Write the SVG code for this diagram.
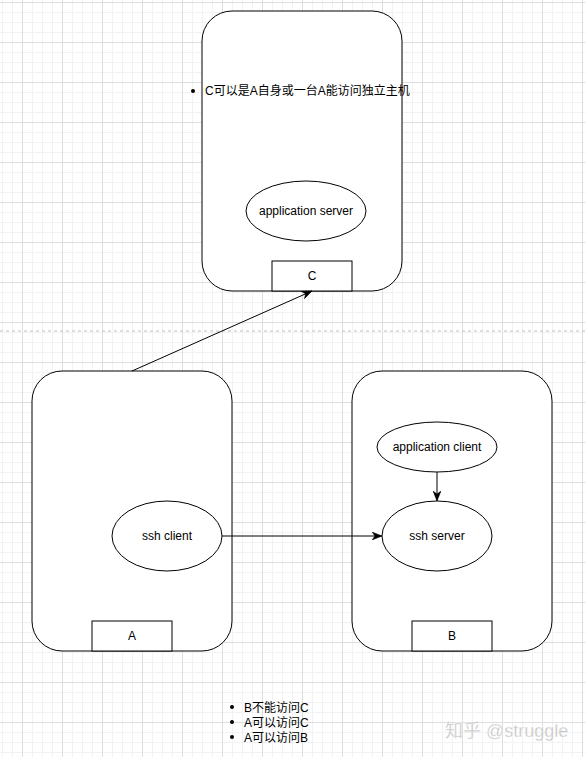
<svg xmlns="http://www.w3.org/2000/svg" width="585" height="757" viewBox="0 0 585 757">
<style>
.box{fill:#fff;stroke:#000;stroke-width:1}
.lbl{font-family:"Liberation Sans","Noto Sans CJK SC",sans-serif;font-size:12px;fill:#000;text-anchor:middle;dominant-baseline:central}
.txt{font-family:"Liberation Sans","Noto Sans CJK SC",sans-serif;font-size:12px;fill:#000}
.edge{fill:none;stroke:#000;stroke-width:1}
</style>
<defs>
<pattern id="grid" x="22" y="2" width="40" height="40" patternUnits="userSpaceOnUse">
<path d="M10.5 0V40M20.5 0V40M30.5 0V40M0 10.5H40M0 20.5H40M0 30.5H40" stroke="#f2f2f2" stroke-width="1" fill="none"/>
<path d="M0.5 0V40M0 0.5H40" stroke="#dedede" stroke-width="1" fill="none"/>
</pattern>
<marker id="arr" markerWidth="10" markerHeight="8" refX="10" refY="4" orient="auto" markerUnits="userSpaceOnUse">
<path d="M0 0L10 4L0 8L3 4Z" fill="#000" stroke="#000" stroke-width="0.5"/>
</marker>
</defs>
<rect width="585" height="757" fill="#fff"/>
<rect width="585" height="757" fill="url(#grid)"/>
<line x1="0" y1="331" x2="585" y2="331" stroke="#c0c0c0" stroke-width="1" stroke-dasharray="3 3"/>

<g id="node-C">
<rect class="box" x="202" y="11" width="200" height="280" rx="30" ry="30"/>
<circle cx="193" cy="91" r="2" fill="#000"/>
<text class="txt" x="205" y="95">C可以是A自身或一台A能访问独立主机</text>
<rect class="box" x="272" y="261" width="80" height="30"/>
<text class="lbl" x="312" y="276">C</text>
</g>
<g id="app-server">
<ellipse class="box" cx="306" cy="211" rx="60" ry="30"/>
<text class="lbl" x="306" y="211">application server</text>
</g>

<g id="node-A">
<rect class="box" x="32" y="371" width="200" height="280" rx="30" ry="30"/>
<rect class="box" x="92" y="621" width="80" height="30"/>
<text class="lbl" x="132" y="636">A</text>
</g>
<g id="ssh-client">
<ellipse class="box" cx="167" cy="536" rx="55" ry="35"/>
<text class="lbl" x="167" y="536">ssh client</text>
</g>

<g id="node-B">
<rect class="box" x="352" y="371" width="200" height="280" rx="30" ry="30"/>
<rect class="box" x="412" y="621" width="80" height="30"/>
<text class="lbl" x="452" y="636">B</text>
</g>
<g id="app-client">
<ellipse class="box" cx="437" cy="447" rx="60" ry="25"/>
<text class="lbl" x="437" y="447">application client</text>
</g>
<g id="ssh-server">
<ellipse class="box" cx="437" cy="536" rx="55" ry="35"/>
<text class="lbl" x="437" y="536">ssh server</text>
</g>

<g id="connectors">
<line class="edge" x1="132" y1="371" x2="312" y2="291" marker-end="url(#arr)"/>
<line class="edge" x1="222" y1="536" x2="382" y2="536" marker-end="url(#arr)"/>
<line class="edge" x1="437" y1="472" x2="437" y2="501" marker-end="url(#arr)"/>
</g>

<g id="notes">
<circle cx="232" cy="707" r="2" fill="#000"/>
<text class="txt" x="244" y="711.5">B不能访问C</text>
<circle cx="232" cy="722" r="2" fill="#000"/>
<text class="txt" x="244" y="726.5">A可以访问C</text>
<circle cx="232" cy="737" r="2" fill="#000"/>
<text class="txt" x="244" y="741.5">A可以访问B</text>
</g>

<text x="445" y="737" font-family="'Liberation Sans','Noto Sans CJK SC',sans-serif" font-size="18" fill="#c4c4c4" stroke="#ffffff" stroke-width="0.3">知乎 @struggle</text>
</svg>
